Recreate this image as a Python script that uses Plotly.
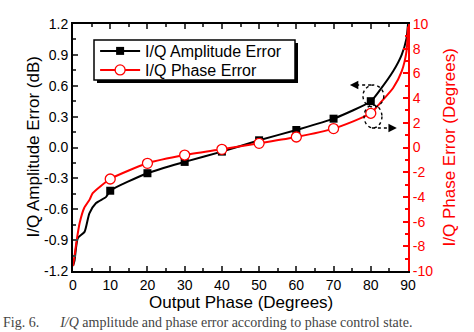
import plotly.graph_objects as go

# ---- data ----
amp_curve_x = [0, 0.4, 1.3, 3.1, 4.4, 6.2, 8.9, 10, 20, 30, 40, 50, 60, 70, 80, 82.5, 86, 88.3, 89.6, 90]
amp_curve_y = [-1.15, -1.1, -0.88, -0.82, -0.64, -0.54, -0.48, -0.42, -0.25, -0.14, -0.04, 0.07, 0.17,
               0.28, 0.45, 0.56, 0.74, 0.9, 1.06, 1.2]
phase_curve_x = [0, 0.4, 1.0, 1.8, 3.0, 4.5, 5.3, 10, 20, 30, 40, 50, 60, 70, 80, 82.5, 86, 88.3, 89.6, 90]
phase_curve_y = [-9.6, -8.8, -7.5, -6.1, -4.9, -4.2, -3.7, -2.55, -1.28, -0.61, -0.15, 0.34, 0.85,
                 1.53, 2.77, 3.6, 4.82, 6.17, 7.79, 9.8]

marker_x = [10, 20, 30, 40, 50, 60, 70, 80]
amp_markers = [-0.42, -0.25, -0.14, -0.04, 0.07, 0.17, 0.28, 0.45]
phase_markers = [-2.55, -1.28, -0.61, -0.15, 0.34, 0.85, 1.53, 2.77]

amp_ticks = [-1.2, -0.9, -0.6, -0.3, 0.0, 0.3, 0.6, 0.9, 1.2]
amp_tick_labels = ["-1.2", "-0.9", "-0.6", "-0.3", "0.0", "0.3", "0.6", "0.9", "1.2"]
phase_ticks = [-10, -8, -6, -4, -2, 0, 2, 4, 6, 8, 10]
phase_tick_labels = ["-10", "-8", "-6", "-4", "-2", "0", "2", "4", "6", "8", "10"]
x_ticks = [0, 10, 20, 30, 40, 50, 60, 70, 80, 90]

RED = "#ff0000"
FONT = "Liberation Sans, Arial, sans-serif"

# plot area in pixels (for paper-coordinate helpers)
L, R, T, B = 73, 408, 24, 271


def px(xp):
    return (xp - L) / (R - L)


def py(yp):
    return (B - yp) / (B - T)


fig = go.Figure()

fig.add_trace(go.Scatter(x=amp_curve_x, y=amp_curve_y, mode="lines",
                         line=dict(color="black", width=2, shape="spline", smoothing=0.6),
                         showlegend=False, hoverinfo="skip"))
fig.add_trace(go.Scatter(x=phase_curve_x, y=phase_curve_y, mode="lines", yaxis="y2",
                         line=dict(color=RED, width=2, shape="spline", smoothing=0.6),
                         showlegend=False, hoverinfo="skip"))
fig.add_trace(go.Scatter(x=marker_x, y=amp_markers, mode="markers",
                         marker=dict(symbol="square", size=8, color="black"),
                         showlegend=False))
fig.add_trace(go.Scatter(x=marker_x, y=phase_markers, mode="markers", yaxis="y2",
                         marker=dict(symbol="circle", size=10, color="white",
                                     line=dict(color=RED, width=1.3)),
                         showlegend=False))
# legend entries (two legends for exact row spacing)
fig.add_trace(go.Scatter(x=[None], y=[None], mode="lines+markers", name="I/Q Amplitude Error",
                         line=dict(color="black", width=2), legend="legend",
                         marker=dict(symbol="square", size=8, color="black")))
fig.add_trace(go.Scatter(x=[None], y=[None], mode="lines+markers", name="I/Q Phase Error",
                         line=dict(color=RED, width=2), legend="legend2",
                         marker=dict(symbol="circle", size=10, color="white",
                                     line=dict(color=RED, width=1.3))))

shapes = [
    # legend shadow + box
    dict(type="rect", xref="paper", yref="paper", x0=px(97), x1=px(298), y0=py(83), y1=py(43),
         fillcolor="black", line=dict(width=0), layer="above"),
    dict(type="rect", xref="paper", yref="paper", x0=px(94), x1=px(295), y0=py(80), y1=py(40),
         fillcolor="white", line=dict(color="black", width=1.5), layer="above"),
    # dashed ellipses
    dict(type="circle", xref="x", yref="y", x0=77.9, x1=83.5, y0=0.394, y1=0.607,
         line=dict(color="black", width=1.4, dash="dot")),
    dict(type="circle", xref="x", yref="y", x0=78.2, x1=83.0, y0=0.19, y1=0.413,
         line=dict(color="black", width=1.4, dash="dot")),
    dict(type="line", xref="x", yref="y", x0=80.1, x1=75.5, y0=0.607, y1=0.607,
         line=dict(color="black", width=1.4, dash="dot")),
    dict(type="line", xref="x", yref="y", x0=80.3, x1=86.0, y0=0.19, y1=0.19,
         line=dict(color="black", width=1.4, dash="dot")),
]

annotations = [
    dict(x=74.4, y=0.607, xref="x", yref="y", ax=8, ay=0, text="", showarrow=True,
         arrowhead=2, arrowsize=1.2, arrowwidth=1.4, arrowcolor="black"),
    dict(x=87.0, y=0.19, xref="x", yref="y", ax=-8, ay=0, text="", showarrow=True,
         arrowhead=2, arrowsize=1.2, arrowwidth=1.4, arrowcolor="black"),
    # axis titles
    dict(x=px(33), y=0.5, xref="paper", yref="paper", text="I/Q Amplitude Error (dB)",
         textangle=-90, showarrow=False, xanchor="center", yanchor="middle",
         font=dict(family=FONT, size=17, color="black")),
    dict(x=px(449), y=0.5, xref="paper", yref="paper", text="I/Q Phase Error (Degrees)",
         textangle=-90, showarrow=False, xanchor="center", yanchor="middle",
         font=dict(family=FONT, size=17, color=RED)),
    dict(x=0.5, y=py(302), xref="paper", yref="paper", text="Output Phase (Degrees)",
         showarrow=False, xanchor="center", yanchor="middle",
         font=dict(family=FONT, size=17, color="black")),
    # caption (cut in the reference; kept fully visible here)
    dict(x=px(1), y=py(332), xref="paper", yref="paper",
         xanchor="left", yanchor="bottom", showarrow=False, align="left",
         text="Fig. 6.      <i>I/Q</i> amplitude and phase error according to phase control state.",
         font=dict(family="Liberation Serif, Times New Roman, serif", size=14, color="#444")),
]

leg_common = dict(xanchor="left", yanchor="middle", bgcolor="rgba(0,0,0,0)", borderwidth=0,
                  font=dict(family=FONT, size=16, color="black"), itemwidth=40)

fig.update_layout(
    width=474, height=332,
    margin=dict(l=L, r=474 - R, t=T, b=332 - B),
    paper_bgcolor="white", plot_bgcolor="white",
    font=dict(family=FONT, color="black", size=14),
    showlegend=True,
    legend=dict(x=0.066, y=py(51), **leg_common),
    legend2=dict(x=0.066, y=py(70), **leg_common),
    xaxis=dict(range=[0, 90], tickvals=x_ticks, ticks="inside", ticklen=5, tickwidth=1.5,
               minor=dict(dtick=5, ticks="inside", ticklen=3, tickwidth=1.5),
               showline=True, linewidth=2, linecolor="black", mirror="ticks",
               showgrid=False, zeroline=False, tickfont=dict(size=14)),
    yaxis=dict(range=[-1.2, 1.2], tickvals=amp_ticks, ticktext=amp_tick_labels,
               ticks="inside", ticklen=5, tickwidth=1.5,
               minor=dict(dtick=0.15, ticks="inside", ticklen=3, tickwidth=1.5),
               showline=True, linewidth=2, linecolor="black",
               showgrid=False, zeroline=False, tickfont=dict(size=14)),
    yaxis2=dict(range=[-10, 10], tickvals=phase_ticks, ticktext=phase_tick_labels,
                overlaying="y", side="right",
                ticks="inside", ticklen=5, tickwidth=1.5, tickcolor=RED,
                minor=dict(dtick=1, ticks="inside", ticklen=3, tickwidth=1.5, tickcolor=RED),
                showline=True, linewidth=2, linecolor=RED,
                showgrid=False, zeroline=False, tickfont=dict(size=14, color=RED)),
    shapes=shapes,
    annotations=annotations,
)

fig.write_html("out.html")
